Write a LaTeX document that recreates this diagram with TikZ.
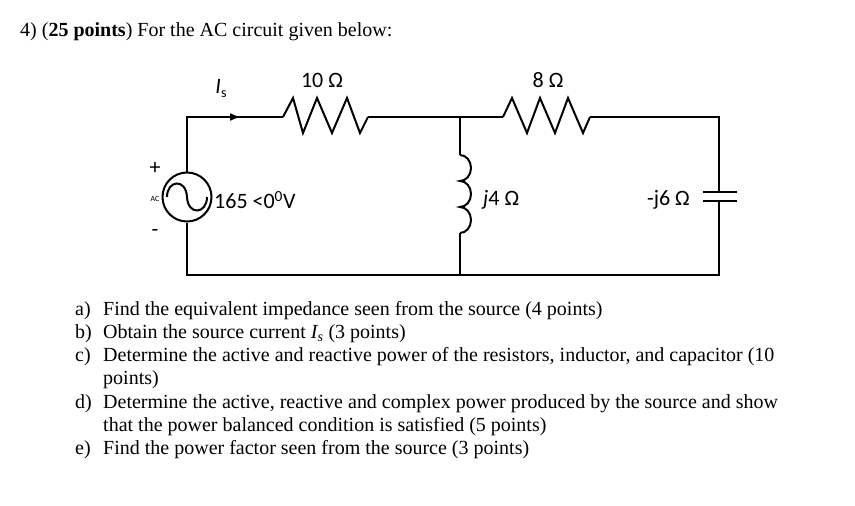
\documentclass[tikz,border=0pt]{standalone}
\usepackage{fontspec}
\usetikzlibrary{arrows.meta}
\setmainfont{Liberation Serif}
\newfontfamily\calfont{Carlito}
\begin{document}
\begin{tikzpicture}[x=1pt,y=-1pt,
  w/.style={line width=2pt,line join=miter},
  lab/.style={font=\calfont\fontsize{22}{24}\selectfont,inner sep=0pt},
  txt/.style={font=\fontsize{20}{24}\selectfont,inner sep=0pt,anchor=west}]
\useasboundingbox (0,0) rectangle (855,506);
\node[txt] (title) at (20,32) {4) (\textbf{25 points}) For the AC circuit given below:};
\coordinate (tl) at (187,117); \coordinate (bl) at (187,275);
\coordinate (tm) at (460,117); \coordinate (bm) at (460,275);
\coordinate (tr) at (719,117); \coordinate (br) at (719,275);
\node[circle,draw,line width=2pt,minimum size=49pt,inner sep=0pt] (src) at (187,197) {};
\coordinate (r1a) at (283,117); \coordinate (r1b) at (368,117);
\coordinate (r2a) at (503,117); \coordinate (r2b) at (590,117);
\coordinate (la) at (460,155); \coordinate (lb) at (460,233);
\coordinate (ca) at (719,192); \coordinate (cb) at (719,201);
\draw[w] (src.north) -- (tl) -- (r1a);
\draw[w,-{Latex[length=11pt,width=8pt]}] (tl) -- (241,117);
\draw[w] (r1a) -- (293,98) -- (303,133) -- (317,98) -- (332,133) -- (347,98) -- (360,133) -- (r1b);
\draw[w] (r1b) -- (tm) -- (r2a);
\draw[w] (r2a) -- (512,98) -- (527,133) -- (540,98) -- (555,133) -- (568,98) -- (583,133) -- (r2b);
\draw[w] (r2b) -- (tr) -- (ca);
\draw[w] (703,192) -- (737,192); \draw[w] (703,201) -- (737,201);
\draw[w] (cb) -- (br) -- (bm) -- (bl) -- (src.south);
\draw[w] (tm) -- (la);
\draw[w] (la) arc[start angle=-90,end angle=90,x radius=11,y radius=13]
  arc[start angle=-90,end angle=90,x radius=11,y radius=13]
  arc[start angle=-90,end angle=90,x radius=11,y radius=13];
\draw[w] (lb) -- (bm);
\draw[w] (167,197) .. controls (167,180) and (186,178) .. (187,197) .. controls (188,216) and (207,214) .. (207,197);
\node[lab] (l10) at (322,80) {10 Ω};
\node[lab] (l8) at (548,80) {8 Ω};
\node[lab] (is) at (221,88) {\textit{I}\raisebox{-4pt}{\fontsize{14}{14}\selectfont s}};
\node[lab] (plus) at (155,168) {+};
\node[lab] (minus) at (155,233) {-};
\node[lab,font=\calfont\fontsize{8}{8}\selectfont] (ac) at (155,199) {AC};
\node[lab,anchor=west] (v) at (214,200) {165 <0\textsuperscript{0}V};
\node[lab,anchor=west] (j4) at (483,200) {\textit{j}4 Ω};
\node[lab,anchor=east] (j6) at (690,200) {-j6 Ω};
\foreach \y/\l/\t in {311/a)/{Find the equivalent impedance seen from the source (4 points)},
 334/b)/{Obtain the source current \textit{I\textsubscript{s}} (3 points)},
 357/c)/{Determine the active and reactive power of the resistors, inductor, and capacitor (10},
 380//{points)},
 404/d)/{Determine the active, reactive and complex power produced by the source and show},
 427//{that the power balanced condition is satisfied (5 points)},
 450/e)/{Find the power factor seen from the source (3 points)}}
 {\node[txt] at (75,\y) {\l}; \node[txt] at (103,\y) {\t};}
\end{tikzpicture}
\end{document}
